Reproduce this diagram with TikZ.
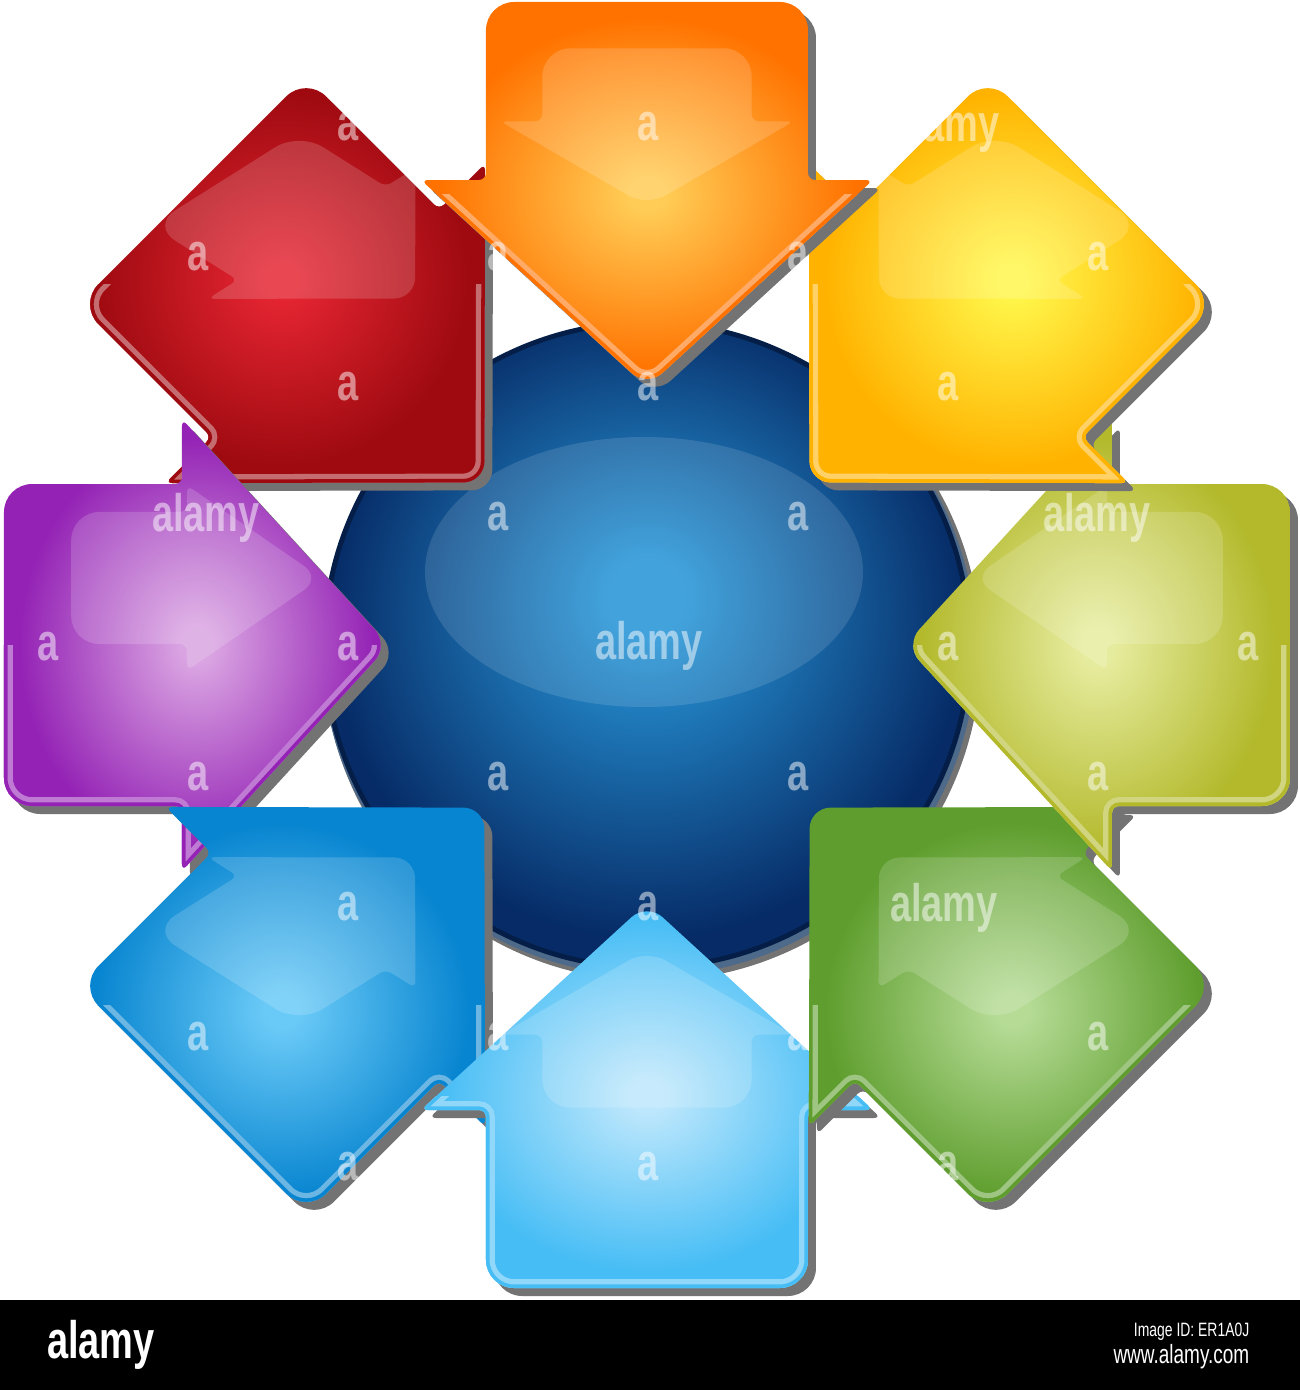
\documentclass[tikz,border=0pt]{standalone}
\usepackage{fontspec}
\newfontfamily\wmfont{Liberation Sans}[FakeStretch=0.72]
\usetikzlibrary{calc}

\definecolor{redEdge}{HTML}{9E0A10}    \definecolor{redGlow}{HTML}{E52532}
\definecolor{orangeEdge}{HTML}{FF7200} \definecolor{orangeGlow}{HTML}{FFCC55}
\definecolor{yellowEdge}{HTML}{FFB300} \definecolor{yellowGlow}{HTML}{FFF64A}
\definecolor{oliveEdge}{HTML}{B3B92B}  \definecolor{oliveGlow}{HTML}{E6EC9E}
\definecolor{greenEdge}{HTML}{5F9E2E}  \definecolor{greenGlow}{HTML}{B5DB95}
\definecolor{skyEdge}{HTML}{46BDF5}    \definecolor{skyGlow}{HTML}{BDE7FC}
\definecolor{blueEdge}{HTML}{0885D0}   \definecolor{blueGlow}{HTML}{6ACAF7}
\definecolor{purpleEdge}{HTML}{9423B5} \definecolor{purpleGlow}{HTML}{DAA4E2}
\definecolor{hubIn}{HTML}{2896D8}      \definecolor{hubOut}{HTML}{062B66}
\definecolor{hubRim}{HTML}{4D6A8A}
\colorlet{glowin}{white}
\colorlet{glowout}{black}

% tikz fits the path box to the inner 50bp of a shading
\pgfdeclareradialshading[glowin,glowout]{arrowglow}{\pgfpoint{0bp}{0bp}}{%
  color(0bp)=(glowin); color(2bp)=(glowin); color(23bp)=(glowout); color(50bp)=(glowout)}
\pgfdeclareradialshading{hubglow}{\pgfpoint{0bp}{4bp}}{%
  color(0bp)=(hubIn); color(3bp)=(hubIn); color(25bp)=(hubOut); color(50bp)=(hubOut)}

% outline of one arrow lying on the +x axis, tip at #1, back of the head at #2
\newcommand{\arrowoutline}[2]{%
  [rounded corners=6pt] (#1,0) [rounded corners=2pt] -- (#2,226) -- (#2,161)
  [rounded corners=8pt] -- (643,161) -- (643,-161)
  [rounded corners=2pt] -- (#2,-161) -- (#2,-226) [rounded corners=6pt] -- cycle}

\begin{document}
\begin{tikzpicture}[
    x=0.01cm, y=0.01cm,
    wmletter/.style={font=\wmfont\bfseries\fontsize{15}{15}\selectfont,
        text=white, text opacity=0.5, inner sep=0},
    barlogo/.style={font=\wmfont\bfseries\fontsize{15}{15}\selectfont,
        text=white, inner sep=0},
    bartext/.style={font=\wmfont\fontsize{#1}{#1}\selectfont,
        text=white, inner sep=0, anchor=east},
    shadowfill/.style={fill=black!55},
    pics/inarrow/.style n args={5}{code={
        \colorlet{glowin}{#2Glow}\colorlet{glowout}{#2Edge}
        \fill[shadowfill, shift={(8,-8)}, rotate=#1] \arrowoutline{#3}{#4};
        \shade[shading=arrowglow, rotate=#1] \arrowoutline{#3}{#4};
        % light bevel on the lower half
        \begin{scope}
            \clip ($(#1:#5)+(-520,0)$) rectangle ($(#1:#5)+(520,-520)$);
            \begin{scope}[rotate=#1]
                \clip \arrowoutline{#3}{#4};
                \draw[line width=5pt, #2Edge!60!white] \arrowoutline{#3}{#4};
                \draw[line width=2pt, #2Edge] \arrowoutline{#3}{#4};
            \end{scope}
        \end{scope}
        % gloss
        \fill[white, opacity=0.16, shift={(#1:#5)}, shift={(0,67)},
            xscale=0.65, yscale=0.41, shift={(#1:-#5)}, rotate=#1]
            \arrowoutline{#3}{#4};
    }}
]
    \useasboundingbox (-647,-745) rectangle (653,645);

    % hub
    \coordinate (hub) at (0,0);
    \fill[shadowfill] ($(hub)+(5,-7)$) circle [radius=329];
    \fill[hubRim] ($(hub)+(2,-4)$) circle [radius=327];
    \fill[hubOut!70!black] (hub) circle [radius=325];
    \shade[shading=hubglow] (hub) circle [radius=320];
    \fill[white, opacity=0.12] ($(hub)+(-3,73)$) ellipse [x radius=219, y radius=135];

    % arrows, back to front
    \pic {inarrow={135}{red}{230}{455}{510}};
    \pic {inarrow={180}{purple}{258}{465}{451}};
    \pic {inarrow={225}{blue}{230}{455}{510}};
    \pic {inarrow={270}{sky}{258}{465}{451}};
    \pic {inarrow={315}{green}{230}{455}{510}};
    \pic {inarrow={0}{olive}{258}{465}{451}};
    \pic {inarrow={45}{yellow}{230}{455}{510}};
    \pic {inarrow={90}{orange}{258}{465}{451}};

    % watermark
    \foreach \x/\y [count=\k] in {-299/518, 1/518, -449/388, -149/388, 151/388,
        451/388, -299/258, 1/258, 301/258, -149/128, 151/128, -599/-2, -299/-2,
        301/-2, 601/-2, -449/-132, -149/-132, 151/-132, 451/-132, -299/-262,
        1/-262, -449/-392, -149/-392, 151/-392, 451/-392, -299/-522, 1/-522,
        301/-522}
        \node[wmletter] (wa\k) at (\x,\y) {a};
    \foreach \x/\y [count=\k] in {-441/127, 450/127, 2/-1, 297/-263, 299/517}
        \node[wmletter] (ww\k) at (\x,\y) {alamy};

    % bottom bar
    \fill[black] (-647,-745) rectangle (653,-655);
    \node[barlogo] (logo) at (-546,-700) {alamy};
    \node[bartext=5.5] (imgid) at (603,-687) {Image ID: ER1A0J};
    \node[bartext=7.5] (site) at (603,-712) {www.alamy.com};
\end{tikzpicture}
\end{document}
